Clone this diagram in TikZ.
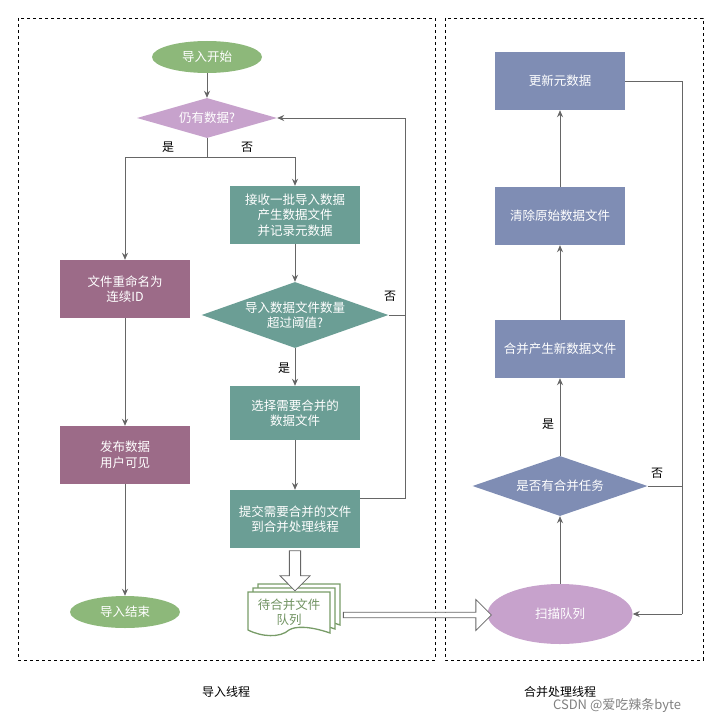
\documentclass[tikz,border=0pt]{standalone}
\usepackage{fontspec}
\setmainfont{Noto Sans CJK SC}
\usetikzlibrary{shapes.geometric,shapes.arrows,arrows.meta}
\definecolor{gr}{HTML}{8DB87A}
\definecolor{pd}{HTML}{C7A2CC}
\definecolor{tl}{HTML}{6B9E95}
\definecolor{mv}{HTML}{9C6B88}
\definecolor{bl}{HTML}{7F8DB4}
\definecolor{ln}{HTML}{666666}
\begin{document}
\begin{tikzpicture}[x=1pt,y=-1pt,
  every node/.style={font=\fontsize{12.5}{15.5}\selectfont, align=center},
  box/.style={rectangle, minimum width=130pt, minimum height=58pt, text=white},
  dia/.style={diamond, aspect=3.2, inner sep=0pt, text=white},
  term/.style={ellipse, text=white, minimum width=110pt, minimum height=32pt, fill=gr},
  arr/.style={draw=ln, line width=0.9pt, -{Stealth[length=7pt,width=6pt]}},
  ln/.style={draw=ln, line width=0.9pt},
  lab/.style={font=\fontsize{12}{14}\selectfont, text=black}]
\useasboundingbox (0,0) rectangle (720,725);
\draw[dashed, line width=0.8pt] (18,18) rectangle (435,660);
\draw[dashed, line width=0.8pt] (445,18) rectangle (703,660);

\node[term] (start) at (207,57) {导入开始};
\node[dia, fill=pd, minimum width=140pt, minimum height=40pt] (d1) at (207,118) {仍有数据?};
\node[box, fill=tl] (recv) at (295,215) {接收一批导入数据\\产生数据文件\\并记录元数据};
\node[dia, fill=tl, minimum width=175pt, minimum height=66pt] (d2) at (295,315) {导入数据文件数量\\超过阈值?};
\node[box, fill=tl, minimum height=54pt] (sel) at (295,413) {选择需要合并的\\数据文件};
\node[box, fill=tl] (sub) at (295,519) {提交需要合并的文件\\到合并处理线程};
\node[box, fill=mv] (ren) at (125,289) {文件重命名为\\连续ID};
\node[box, fill=mv] (pub) at (125,455) {发布数据\\用户可见};
\node[term] (end) at (125,612) {导入结束};

\node[box, fill=bl] (upd) at (560,81) {更新元数据};
\node[box, fill=bl] (clr) at (560,216) {清除原始数据文件};
\node[box, fill=bl] (mrg) at (560,349) {合并产生新数据文件};
\node[dia, fill=bl, minimum width=175pt, minimum height=60pt] (d3) at (560,486) {是否有合并任务};
\node[ellipse, fill=pd, text=white, minimum width=145pt, minimum height=60pt] (scan) at (560,614) {扫描队列};

% multi document
\begin{scope}[draw=gr!85!black, line width=1.3pt, fill=white]
\foreach \dx/\dy in {10/8,5/4,0/0}{
 \filldraw[xshift=\dx,yshift=\dy] (248,592) -- (330,592) -- (330,633)
   .. controls (310,626) and (295,626) .. (289,630) .. controls (280,638) and (262,637) .. (248,630) -- cycle;}
\end{scope}
\node[text=gr!80!black] (doc) at (289,612) {待合并文件\\队列};

% connectors
\draw[arr] (start) -- (d1);
\draw[ln] (d1.south) -- (207,157) coordinate (br);
\draw[arr] (br) -| (ren.north);
\draw[arr] (br) -| (recv.north);
\node[lab] at (168,147) {是};
\node[lab] at (247,147) {否};
\draw[arr] (recv) -- (d2);
\draw[arr] (d2) -- (sel);
\node[lab] at (284,368) {是};
\draw[arr] (sel) -- (sub);
\draw[arr] (d2.east) -- (405,315) |- (d1.east);
\node[lab] at (390,296) {否};
\draw[ln] (sub.east |- 0,498) -- (405,498) -- (405,315);
\draw[arr] (ren) -- (pub);
\draw[arr] (pub) -- (end);
\node[single arrow, draw=ln, fill=white, line width=0.8pt, minimum height=40pt, minimum width=30pt, single arrow head extend=4pt, shape border rotate=270, inner sep=2pt] at (295,568) {};
\node[single arrow, draw=ln, fill=white, line width=0.8pt, minimum height=148pt, minimum width=31pt, single arrow head extend=9pt, inner sep=1.5pt, single arrow tip angle=90] at (416,615) {};

\draw[arr] (scan) -- (d3);
\draw[arr] (d3) -- (mrg);
\node[lab] at (548,424) {是};
\draw[arr] (mrg) -- (clr);
\draw[arr] (clr) -- (upd);
\draw[ln] (upd.east) -- (682,81) -- (682,614);
\draw[arr] (682,614) -- (scan.east);
\draw[ln] (d3.east) -- (682,486);
\node[lab] at (657,473) {否};

\node[lab] at (226,692) {导入线程};
\node[lab] at (560,692) {合并处理线程};
\node[text=gray, font=\fontsize{13}{15}\selectfont] at (617,706) {CSDN @爱吃辣条byte};
\end{tikzpicture}
\end{document}
